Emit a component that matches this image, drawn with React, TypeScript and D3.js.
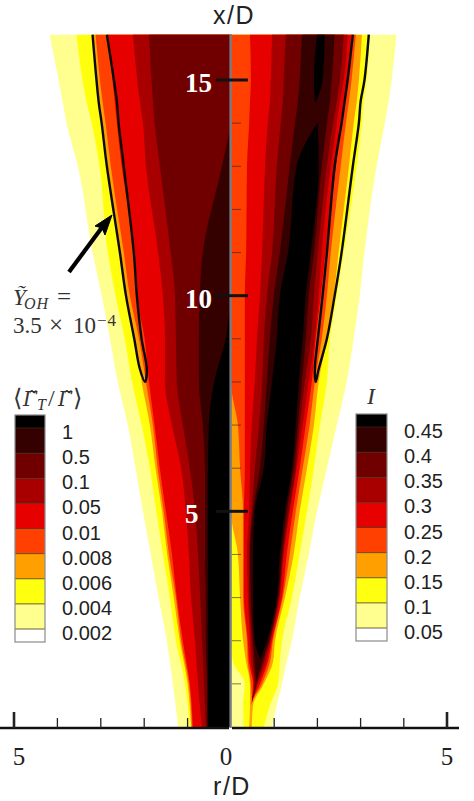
import React from 'react'
import * as d3 from 'd3'

// x/D stations for the left half, r/D
const leftStations = [16.05, 14.5, 14, 13, 11, 10, 9, 8, 7, 6, 5, 4, 3, 2, 1, 0]
const leftPale = [4.18, 3.88, 3.79, 3.53, 3.19, 2.98, 2.79, 2.61, 2.38, 2.2, 2.03, 1.85, 1.67, 1.48, 1.34, 1.22]
const leftYellow = [3.56, 3.33, 3.21, 3.03, 2.84, 2.66, 2.45, 2.28, 2.06, 1.87, 1.72, 1.57, 1.41, 1.27, 1.06, 0.95]
const leftOrange = [3.19, 3.03, 2.96, 2.84, 2.56, 2.42, 2.22, 2.06, 1.87, 1.74, 1.59, 1.47, 1.32, 1.18, 1.0, 0.92]
const leftOrangeRed = [3.12, 2.96, 2.89, 2.77, 2.47, 2.33, 2.12, 1.96, 1.8, 1.69, 1.55, 1.43, 1.27, 1.15, 0.97, 0.9]
const leftRed = [2.84, 2.68, 2.63, 2.52, 2.22, 2.17, 1.99, 1.89, 1.76, 1.64, 1.5, 1.36, 1.25, 1.11, 0.95, 0.88]
const leftDarkRed = [2.26, 2.1, 2.03, 1.96, 1.68, 1.57, 1.52, 1.52, 1.36, 1.15, 1.04, 0.97, 0.92, 0.83, 0.76, 0.67]
const leftMaroon = [1.89, 1.8, 1.76, 1.64, 1.39, 1.29, 1.27, 1.25, 1.11, 0.95, 0.83, 0.76, 0.71, 0.67, 0.62, 0.58]
const leftDeep = [0, 0, 0.02, 0.21, 0.65, 0.72, 0.74, 0.74, 0.65, 0.6, 0.6, 0.6, 0.58, 0.58, 0.55, 0.55]
const leftBlack = [0, 0, 0, 0, 0, 0.02, 0.12, 0.39, 0.51, 0.53, 0.53, 0.53, 0.53, 0.53, 0.53, 0.53]

// right half: bands leave the axis and come back, so each has an inner and outer edge
const rightStations = [16.05, 15, 14.5, 14, 13, 11, 10, 9, 8, 7, 6, 5, 4, 3, 2, 1.5, 1, 0.5, 0]
const rightPaleOuter = [3.83, 3.72, 3.65, 3.56, 3.37, 3.09, 2.98, 2.84, 2.68, 2.45, 2.22, 1.99, 1.8, 1.59, 1.41, 1.29, 1.18, 1.06, 0.95]
const rightPaleInner = rightStations.map(() => 0)
const rightYellowOuter = [3.21, 3.14, 3.07, 3.03, 2.91, 2.61, 2.45, 2.29, 2.22, 2.06, 1.92, 1.76, 1.59, 1.41, 1.18, 1.13, 1.09, 0.9, 0.76]
const rightYellowInner = [0, 0, 0, 0, 0, 0, 0, 0, 0, 0, 0, 0, 0, 0, 0, 0.05, 0.32, 0.28, 0.3]
const rightOrangeOuter = [3.03, 2.96, 2.91, 2.84, 2.73, 2.49, 2.38, 2.22, 2.03, 1.92, 1.76, 1.59, 1.45, 1.25, 1.02, 0.97, 0.76, 0.51, 0.48]
const rightOrangeInner = [0, 0, 0, 0, 0, 0, 0, 0, 0, 0, 0, 0, 0.16, 0.21, 0.28, 0.35, 0.44, 0.44, 0.42]
const rightOrangeRedOuter = [2.89, 2.79, 2.73, 2.66, 2.54, 2.31, 2.22, 2.1, 1.94, 1.82, 1.66, 1.5, 1.36, 1.2, 0.97, 0.9, 0.72, 0.48, 0.48]
const rightOrangeRedInner = [0, 0, 0, 0, 0, 0, 0, 0, 0, 0.16, 0.21, 0.28, 0.28, 0.28, 0.37, 0.39, 0.46, 0.48, 0.48]
const rightRedOuter = [2.79, 2.7, 2.63, 2.54, 2.43, 2.19, 2.08, 1.96, 1.87, 1.73, 1.59, 1.43, 1.29, 1.18, 0.95, 0.85, 0.67, 0.48, 0.48]
const rightRedInner = [0.44, 0.46, 0.44, 0.42, 0.37, 0.35, 0.32, 0.32, 0.32, 0.32, 0.32, 0.3, 0.3, 0.3, 0.39, 0.42, 0.51, 0.48, 0.48]
const rightDarkRedOuter = [2.7, 2.61, 2.52, 2.45, 2.31, 2.1, 2.03, 1.94, 1.8, 1.66, 1.52, 1.36, 1.22, 1.13, 0.92, 0.81, 0.62, 0.48, 0.48]
const rightDarkRedInner = [0.95, 0.92, 0.9, 0.85, 0.79, 0.72, 0.67, 0.6, 0.55, 0.48, 0.44, 0.42, 0.37, 0.39, 0.44, 0.46, 0.53, 0.48, 0.48]
const rightMaroonOuter = [2.61, 2.52, 2.45, 2.36, 2.22, 2.01, 1.92, 1.85, 1.71, 1.59, 1.5, 1.34, 1.2, 1.11, 0.9, 0.76, 0.6, 0.48, 0.48]
const rightMaroonInner = [1.27, 1.22, 1.2, 1.15, 1.06, 0.95, 0.83, 0.76, 0.72, 0.65, 0.55, 0.48, 0.42, 0.42, 0.48, 0.51, 0.55, 0.48, 0.48]
const rightDeepOuter = [2.4, 2.33, 2.29, 2.22, 2.1, 1.92, 1.8, 1.73, 1.64, 1.55, 1.45, 1.29, 1.18, 1.09, 0.88, 0.72, 0.58, 0.48, 0.48]
const rightDeepInner = [1.64, 1.59, 1.55, 1.48, 1.36, 1.13, 0.99, 0.9, 0.83, 0.76, 0.67, 0.51, 0.44, 0.46, 0.51, 0.55, 0.58, 0.48, 0.48]

// the black core on the right is split in two near x/D = 14
const coreTopStations = [16.05, 15, 14.5]
const coreTopInner = [1.99, 1.92, 1.94]
const coreTopOuter = [2.17, 2.12, 1.97]
const coreStations = [14, 13, 11, 10, 9, 8, 7, 6, 5, 4, 3, 2, 1.6]
const coreInner = [1.99, 1.52, 1.32, 1.13, 1.06, 0.95, 0.83, 0.76, 0.55, 0.51, 0.51, 0.55, 0.67]
const coreOuter = [2.01, 2.03, 1.85, 1.73, 1.66, 1.57, 1.5, 1.41, 1.25, 1.13, 1.06, 0.83, 0.69]

// Y_OH contour, the last station is the tip
const lineLeftStations = [16.05, 14.5, 14, 13, 11, 10, 9, 8.3, 8]
const lineLeftOuter = [3.19, 3.05, 2.98, 2.86, 2.56, 2.42, 2.23, 2.1, 1.98]
const lineLeftInner = [2.86, 2.63, 2.59, 2.47, 2.24, 2.17, 2.06, 1.94, 1.98]
const lineRightStations = [16.05, 15, 14.5, 14, 13, 11, 10, 9, 8.3, 8]
const lineRightOuter = [3.19, 3.09, 3.0, 2.96, 2.82, 2.56, 2.4, 2.22, 2.03, 1.96]
const lineRightInner = [2.82, 2.7, 2.63, 2.56, 2.4, 2.22, 2.12, 2.01, 1.94, 1.96]

const bandColors = ['#000000', '#340000', '#700000', '#a80000', '#e60000', '#ff4000', '#ffa000', '#ffff10', '#ffff90', '#ffffff']
const leftLegendLabels = ['1', '0.5', '0.1', '0.05', '0.01', '0.008', '0.006', '0.004', '0.002']
const rightLegendLabels = ['0.45', '0.4', '0.35', '0.3', '0.25', '0.2', '0.15', '0.1', '0.05']
const xMajorTicks = [5, 10, 15]
const xMinorTicks = [1, 2, 3, 4, 6, 7, 8, 9, 11, 12, 13, 14]
const rMinorTicks = [1, 2, 3, 4]

const width = 474
const height = 801
const axisX = 231

const y = d3.scaleLinear().domain([0, 15]).range([727, 80])
const rLeft = d3.scaleLinear().domain([0, 5]).range([axisX, 14])
const rRight = d3.scaleLinear().domain([0, 5]).range([axisX, 447])
const legendY = d3.scaleLinear().domain([0, 8]).range([428, 629])

const bandPath = (stations: number[], inner: number[], outer: number[], r: d3.ScaleLinear<number, number>) =>
  d3.area<number>()
    .curve(d3.curveMonotoneY)
    .y((d) => y(d))
    .x0((_, i) => r(inner[i]))
    .x1((_, i) => r(outer[i]))(stations) as string

const loopPath = (stations: number[], outer: number[], inner: number[], r: d3.ScaleLinear<number, number>) => {
  const out = stations.map((s, i): [number, number] => [r(outer[i]), y(s)])
  const back = stations.map((s, i): [number, number] => [r(inner[i]), y(s)])
  return d3.line().curve(d3.curveCatmullRom)([...out, ...back.slice(0, -1).reverse()]) as string
}

const Legend = ({ x, w, top, shift, labels, labelX }: any) => (
  <g>
    {bandColors.map((c, i) => {
      const y0 = i === 0 ? top : legendY(i - 1) + shift
      const y1 = i === bandColors.length - 1 ? 642 + shift : legendY(i) + shift
      return <rect key={c} x={x} y={y0} width={w} height={y1 - y0} fill={c} />
    })}
    {labels.map((_: string, i: number) => (
      <line key={i} x1={x} x2={x + w} y1={legendY(i) + shift} y2={legendY(i) + shift} stroke="#3a2a10" strokeOpacity={0.75} strokeWidth={1} />
    ))}
    <rect x={x} y={top} width={w} height={642 + shift - top} fill="none" stroke="#8a8a8a" strokeWidth={1.2} />
    {labels.map((t: string, i: number) => (
      <text key={t} x={labelX} y={legendY(i) + shift + 11} fontFamily="'Liberation Sans', Arial, sans-serif" fontSize={20} fill="#222">{t}</text>
    ))}
  </g>
)

export default function App() {
  const leftBands = [leftPale, leftYellow, leftOrange, leftOrangeRed, leftRed, leftDarkRed, leftMaroon, leftDeep, leftBlack]
  const zeros = leftStations.map(() => 0)
  const rightBands = [
    [rightPaleInner, rightPaleOuter],
    [rightYellowInner, rightYellowOuter],
    [rightOrangeInner, rightOrangeOuter],
    [rightOrangeRedInner, rightOrangeRedOuter],
    [rightRedInner, rightRedOuter],
    [rightDarkRedInner, rightDarkRedOuter],
    [rightMaroonInner, rightMaroonOuter],
    [rightDeepInner, rightDeepOuter],
  ]
  const fills = bandColors.slice(0, 9).reverse()
  const mathFont = "'Liberation Serif', 'DejaVu Serif', serif"

  return (
    <svg width={width} height={height} style={{ position: 'absolute', left: 0, top: 0, background: '#fff' }}>
      <defs>
        <filter id="soft" x="-5%" y="-5%" width="110%" height="110%">
          <feGaussianBlur stdDeviation="0.7" />
        </filter>
        <clipPath id="plot">
          <rect x={0} y={34} width={width} height={694} />
        </clipPath>
      </defs>

      <g clipPath="url(#plot)">
        <g filter="url(#soft)">
          {leftBands.map((b, i) => (
            <path key={i} d={bandPath(leftStations, zeros, b, rLeft)} fill={fills[i]} />
          ))}
          {rightBands.map(([inner, outer], i) => (
            <path key={i} d={bandPath(rightStations, inner, outer, rRight)} fill={fills[i]} />
          ))}
          <path d={bandPath(coreTopStations, coreTopInner, coreTopOuter, rRight)} fill="#000" />
          <path d={bandPath(coreStations, coreInner, coreOuter, rRight)} fill="#000" />
        </g>
        <path d={loopPath(lineLeftStations, lineLeftOuter, lineLeftInner, rLeft)} fill="none" stroke="#0a0a0a" strokeWidth={2.4} strokeLinejoin="round" />
        <path d={loopPath(lineRightStations, lineRightOuter, lineRightInner, rRight)} fill="none" stroke="#0a0a0a" strokeWidth={2.4} strokeLinejoin="round" />
      </g>

      {/* centre axis */}
      <line x1={axisX - 0.4} x2={axisX - 0.4} y1={34} y2={728} stroke="#777d86" strokeWidth={2.4} />
      {xMajorTicks.map((t) => (
        <line key={t} x1={216} x2={248} y1={y(t)} y2={y(t)} stroke="#111" strokeWidth={3} />
      ))}
      {xMinorTicks.map((t) => (
        <line key={t} x1={232} x2={241} y1={y(t)} y2={y(t)} stroke="#222" strokeOpacity={0.6} strokeWidth={1} />
      ))}
      <g fontFamily="'Liberation Serif', serif" fontWeight="bold" fontSize={27} fill="#fff">
        {[...xMajorTicks].reverse().map((t) => (
          <text key={t} x={185} y={y(t) + 12}>{t}</text>
        ))}
      </g>

      {/* bottom axis */}
      <line x1={0} x2={229} y1={728} y2={728} stroke="#111" strokeWidth={2.6} />
      <line x1={232} x2={459} y1={728} y2={728} stroke="#111" strokeWidth={2.6} />
      {[rLeft, rRight].map((r, k) => (
        <g key={k} stroke="#222">
          {rMinorTicks.map((t) => (
            <line key={t} x1={r(t)} x2={r(t)} y1={718} y2={728} strokeWidth={1.3} />
          ))}
          <line x1={r(5)} x2={r(5)} y1={712} y2={728} strokeWidth={2.6} />
        </g>
      ))}
      <g fontFamily="'Liberation Serif', serif" fontSize={25} fill="#222" textAnchor="middle">
        <text x={19} y={765}>5</text>
        <text x={226} y={765}>0</text>
        <text x={447} y={765}>5</text>
      </g>
      <g fontFamily="'Liberation Sans', sans-serif" fontSize={25} fill="#222" textAnchor="middle" letterSpacing={1.5}>
        <text x={234} y={24}>x/D</text>
        <text x={232} y={795}>r/D</text>
      </g>

      {/* arrow to the contour */}
      <line x1={69} y1={272} x2={106} y2={222} stroke="#000" strokeWidth={4.2} />
      <path d="M112,215 L95,226 L102,228 L105,235 Z" fill="#000" stroke="#000" strokeWidth={1} />
      <g fontFamily={mathFont} fill="#333" fontSize={23}>
        <text y={305}>
          <tspan x={13} fontStyle="italic">Y&#771;</tspan>
          <tspan x={24} y={309} fontStyle="italic" fontSize={16} letterSpacing={1}>OH</tspan>
          <tspan x={57} y={305} fontSize={25}>=</tspan>
        </text>
        <text y={333}>
          <tspan x={13}>3.5</tspan>
          <tspan x={49} fontSize={25}>×</tspan>
          <tspan x={73}>10</tspan>
          <tspan x={97} y={326} fontSize={17} letterSpacing={1}>−4</tspan>
        </text>
      </g>

      {/* legend titles, DejaVu places the combining tilde over the gamma */}
      <g fontFamily={mathFont} fill="#333" fontSize={24}>
        <text y={406}>
          <tspan x={13}>⟨</tspan>
          <tspan x={23} fontFamily="'DejaVu Serif', serif" fontStyle="italic" fontSize={20}>Γ&#771;</tspan>
          <tspan x={37} y={410} fontStyle="italic" fontSize={16}>T</tspan>
          <tspan x={48} y={406}>/</tspan>
          <tspan x={58} fontFamily="'DejaVu Serif', serif" fontStyle="italic" fontSize={20}>Γ&#771;</tspan>
          <tspan x={73}>⟩</tspan>
        </text>
        <text x={367} y={404} fontStyle="italic">I</text>
      </g>
      <Legend x={15} w={30} top={415} shift={0} labels={leftLegendLabels} labelX={62} />
      <Legend x={356} w={31} top={414} shift={-1} labels={rightLegendLabels} labelX={404} />
    </svg>
  )
}
